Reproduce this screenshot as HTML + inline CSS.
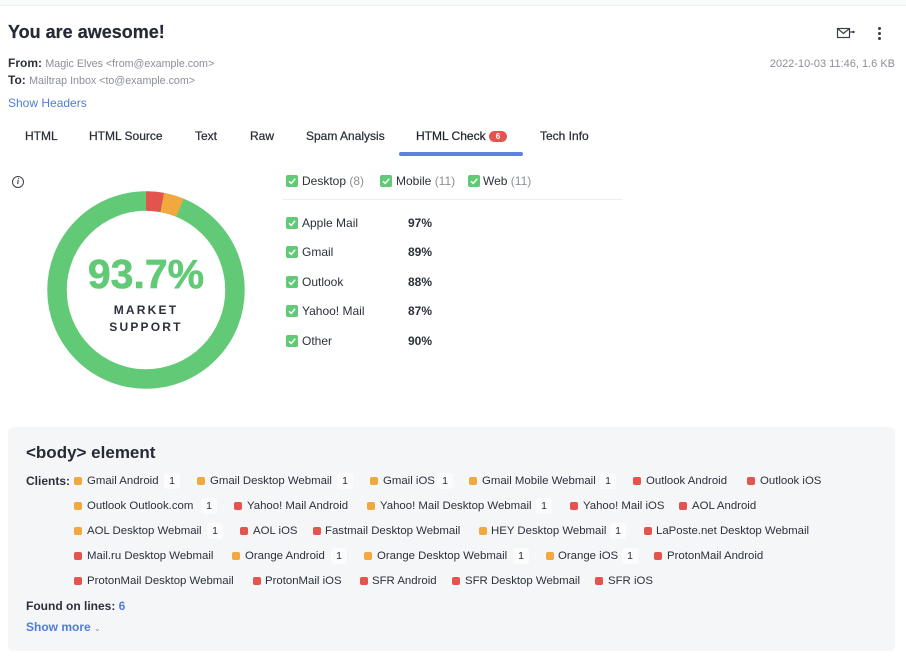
<!DOCTYPE html>
<html><head><meta charset="utf-8">
<style>
*{margin:0;padding:0;box-sizing:border-box}
body{width:906px;height:660px;background:#fff;position:relative;overflow:hidden;font-family:"Liberation Sans",Arial,sans-serif;color:#2b303b}
.t{position:absolute;white-space:nowrap;line-height:16px;font-size:12px}
.c{font-size:11.4px}
.g{color:#8b8f97}
.b{font-weight:bold}
.tab{position:absolute;white-space:nowrap;line-height:16px;font-size:12px;top:128px;color:#2b303b;-webkit-text-stroke:0.25px #2b303b}
.cb{position:absolute;width:12px;height:12px;background:#62c977;border-radius:2px}
.cb svg{position:absolute;left:0;top:0}
.d{position:absolute;width:8px;height:8px;border-radius:2px}
.o{background:#f0a83f}
.r{background:#e4544f}
.bd{position:absolute;width:16px;height:16px;line-height:16px;text-align:center;font-size:10.5px;background:#fcfcfc;border-radius:3px;color:#2b303b}
</style></head><body>
<div style="position:absolute;left:0;top:0;width:906px;height:5px;background:#fafbfb"></div>
<div style="position:absolute;left:0;top:5px;width:906px;height:1px;background:#eceef0"></div>

<div class="t b" style="left:8px;top:22px;font-size:18px;line-height:20px;color:#252a35;-webkit-text-stroke:0.2px #252a35">You are awesome!</div>

<!-- icons -->
<svg style="position:absolute;left:836px;top:26px" width="20" height="14" viewBox="0 0 20 14">
<rect x="1.5" y="2.5" width="12" height="9" fill="none" stroke="#3a3f4a" stroke-width="1.2"/>
<path d="M1.5 2.5 L7.5 7.5 L13.5 2.5" fill="none" stroke="#3a3f4a" stroke-width="1.2"/>
<path d="M13 6 L18 6" stroke="#3a3f4a" stroke-width="1.2"/>
<circle cx="17.5" cy="6" r="1.2" fill="#3a3f4a"/>
</svg>
<div style="position:absolute;left:878px;top:27px;width:3px;height:3px;border-radius:50%;background:#3a3f4a"></div>
<div style="position:absolute;left:878px;top:32px;width:3px;height:3px;border-radius:50%;background:#3a3f4a"></div>
<div style="position:absolute;left:878px;top:37px;width:3px;height:3px;border-radius:50%;background:#3a3f4a"></div>

<div class="t" style="left:8px;top:55px"><span class="b" style="color:#2b303b">From:</span> <span class="g" style="font-size:10.7px">Magic Elves &lt;from@example.com&gt;</span></div>
<div class="t" style="left:8px;top:72px"><span class="b" style="color:#2b303b">To:</span> <span class="g" style="font-size:10.7px">Mailtrap Inbox &lt;to@example.com&gt;</span></div>
<div class="t g" style="right:11px;top:56px;font-size:11px">2022-10-03 11:46, 1.6 KB</div>
<div class="t" style="left:8px;top:95px;color:#4f7ddb">Show Headers</div>

<!-- tabs -->
<div class="tab" style="left:25px">HTML</div>
<div class="tab" style="left:89px">HTML Source</div>
<div class="tab" style="left:195px">Text</div>
<div class="tab" style="left:250px">Raw</div>
<div class="tab" style="left:306px">Spam Analysis</div>
<div class="tab" style="left:416px;color:#1f2430">HTML Check</div>
<div style="position:absolute;left:489px;top:131px;width:18px;height:11px;border-radius:6px;background:#e4544f;color:#fff;font-size:8px;font-weight:bold;text-align:center;line-height:11px">6</div>
<div class="tab" style="left:540px">Tech Info</div>
<div style="position:absolute;left:399px;top:152px;width:124px;height:4px;border-radius:2px;background:#5b83dc"></div>

<!-- info icon -->
<div style="position:absolute;left:12px;top:176px;width:12px;height:12px;border:1px solid #3a3f4a;border-radius:50%;font-size:8px;line-height:10px;text-align:center;font-style:italic;font-family:'Liberation Serif',serif;font-weight:bold;color:#3a3f4a">i</div>

<!-- donut -->
<svg style="position:absolute;left:0;top:0" width="300" height="420" viewBox="0 0 300 420">
<circle cx="146" cy="290" r="89" fill="none" stroke="#62c977" stroke-width="19.5"/>
<circle cx="146" cy="290" r="89" fill="none" stroke="#e4544f" stroke-width="19.5" stroke-dasharray="16.3 600" transform="rotate(-90 146 290)"/>
<circle cx="146" cy="290" r="89" fill="none" stroke="#f0a83f" stroke-width="19.5" stroke-dasharray="0 16.3 18.6 600" transform="rotate(-90 146 290)"/>
</svg>
<div class="t b" style="left:46px;width:200px;text-align:center;top:252px;font-size:41px;line-height:44px;color:#62c977;-webkit-text-stroke:0.6px #62c977">93.7%</div>
<div class="t b" style="left:46px;width:200px;text-align:center;top:302px;font-size:12px;letter-spacing:2.2px;color:#2b303b">MARKET</div>
<div class="t b" style="left:46px;width:200px;text-align:center;top:319px;font-size:12px;letter-spacing:2.2px;color:#2b303b">SUPPORT</div>

<!-- filters -->
<div class="cb" style="left:286px;top:175px"><svg width="12" height="12"><path d="M3 6.2 L5.2 8.4 L9.2 3.8" fill="none" stroke="#fff" stroke-width="1.5"/></svg></div>
<div class="t" style="left:302px;top:173px">Desktop <span class="g">(8)</span></div>
<div class="cb" style="left:380px;top:175px"><svg width="12" height="12"><path d="M3 6.2 L5.2 8.4 L9.2 3.8" fill="none" stroke="#fff" stroke-width="1.5"/></svg></div>
<div class="t" style="left:396px;top:173px">Mobile <span class="g">(11)</span></div>
<div class="cb" style="left:468px;top:175px"><svg width="12" height="12"><path d="M3 6.2 L5.2 8.4 L9.2 3.8" fill="none" stroke="#fff" stroke-width="1.5"/></svg></div>
<div class="t" style="left:483px;top:173px">Web <span class="g">(11)</span></div>
<div style="position:absolute;left:282px;top:199px;width:340px;height:1px;background:#eceef0"></div>

<div class="cb" style="left:286px;top:217px"><svg width="12" height="12"><path d="M3 6.2 L5.2 8.4 L9.2 3.8" fill="none" stroke="#fff" stroke-width="1.5"/></svg></div>
<div class="t" style="left:302px;top:215px">Apple Mail</div><div class="t b" style="left:408px;top:215px">97%</div>
<div class="cb" style="left:286px;top:246px"><svg width="12" height="12"><path d="M3 6.2 L5.2 8.4 L9.2 3.8" fill="none" stroke="#fff" stroke-width="1.5"/></svg></div>
<div class="t" style="left:302px;top:244px">Gmail</div><div class="t b" style="left:408px;top:244px">89%</div>
<div class="cb" style="left:286px;top:276px"><svg width="12" height="12"><path d="M3 6.2 L5.2 8.4 L9.2 3.8" fill="none" stroke="#fff" stroke-width="1.5"/></svg></div>
<div class="t" style="left:302px;top:274px">Outlook</div><div class="t b" style="left:408px;top:274px">88%</div>
<div class="cb" style="left:286px;top:305px"><svg width="12" height="12"><path d="M3 6.2 L5.2 8.4 L9.2 3.8" fill="none" stroke="#fff" stroke-width="1.5"/></svg></div>
<div class="t" style="left:302px;top:303px">Yahoo! Mail</div><div class="t b" style="left:408px;top:303px">87%</div>
<div class="cb" style="left:286px;top:335px"><svg width="12" height="12"><path d="M3 6.2 L5.2 8.4 L9.2 3.8" fill="none" stroke="#fff" stroke-width="1.5"/></svg></div>
<div class="t" style="left:302px;top:333px">Other</div><div class="t b" style="left:408px;top:333px">90%</div>

<!-- body element box -->
<div style="position:absolute;left:8px;top:427px;width:887px;height:224px;background:#f5f6f7;border-radius:6px"></div>
<div class="t b" style="left:26px;top:443px;font-size:17px;line-height:20px;color:#252a35">&lt;body&gt; element</div>
<div class="t b" style="left:26px;top:473px">Clients:</div>

<!-- row1 y=481 -->
<div class="d o" style="left:74px;top:477px"></div><div class="t c" style="left:87px;top:473px">Gmail Android</div><div class="bd" style="left:164px;top:473px">1</div>
<div class="d o" style="left:197px;top:477px"></div><div class="t c" style="left:210px;top:473px">Gmail Desktop Webmail</div><div class="bd" style="left:337px;top:473px">1</div>
<div class="d o" style="left:370px;top:477px"></div><div class="t c" style="left:383px;top:473px">Gmail iOS</div><div class="bd" style="left:437px;top:473px">1</div>
<div class="d o" style="left:469px;top:477px"></div><div class="t c" style="left:482px;top:473px">Gmail Mobile Webmail</div><div class="bd" style="left:600px;top:473px">1</div>
<div class="d r" style="left:633px;top:477px"></div><div class="t c" style="left:646px;top:473px">Outlook Android</div>
<div class="d r" style="left:747px;top:477px"></div><div class="t c" style="left:760px;top:473px">Outlook iOS</div>

<!-- row2 y=506 -->
<div class="d o" style="left:74px;top:502px"></div><div class="t c" style="left:87px;top:498px">Outlook Outlook.com</div><div class="bd" style="left:201px;top:498px">1</div>
<div class="d r" style="left:234px;top:502px"></div><div class="t c" style="left:247px;top:498px">Yahoo! Mail Android</div>
<div class="d o" style="left:367px;top:502px"></div><div class="t c" style="left:380px;top:498px">Yahoo! Mail Desktop Webmail</div><div class="bd" style="left:536px;top:498px">1</div>
<div class="d r" style="left:570px;top:502px"></div><div class="t c" style="left:583px;top:498px">Yahoo! Mail iOS</div>
<div class="d r" style="left:679px;top:502px"></div><div class="t c" style="left:692px;top:498px">AOL Android</div>

<!-- row3 y=531 -->
<div class="d o" style="left:74px;top:527px"></div><div class="t c" style="left:87px;top:523px">AOL Desktop Webmail</div><div class="bd" style="left:207px;top:523px">1</div>
<div class="d r" style="left:240px;top:527px"></div><div class="t c" style="left:253px;top:523px">AOL iOS</div>
<div class="d r" style="left:313px;top:527px"></div><div class="t c" style="left:325px;top:523px">Fastmail Desktop Webmail</div>
<div class="d o" style="left:479px;top:527px"></div><div class="t c" style="left:491px;top:523px">HEY Desktop Webmail</div><div class="bd" style="left:610px;top:523px">1</div>
<div class="d r" style="left:644px;top:527px"></div><div class="t c" style="left:656px;top:523px">LaPoste.net Desktop Webmail</div>

<!-- row4 y=556 -->
<div class="d r" style="left:74px;top:552px"></div><div class="t c" style="left:87px;top:548px">Mail.ru Desktop Webmail</div>
<div class="d o" style="left:232px;top:552px"></div><div class="t c" style="left:245px;top:548px">Orange Android</div><div class="bd" style="left:331px;top:548px">1</div>
<div class="d o" style="left:364px;top:552px"></div><div class="t c" style="left:377px;top:548px">Orange Desktop Webmail</div><div class="bd" style="left:513px;top:548px">1</div>
<div class="d o" style="left:546px;top:552px"></div><div class="t c" style="left:558px;top:548px">Orange iOS</div><div class="bd" style="left:622px;top:548px">1</div>
<div class="d r" style="left:654px;top:552px"></div><div class="t c" style="left:667px;top:548px">ProtonMail Android</div>

<!-- row5 y=581 -->
<div class="d r" style="left:74px;top:577px"></div><div class="t c" style="left:87px;top:573px">ProtonMail Desktop Webmail</div>
<div class="d r" style="left:253px;top:577px"></div><div class="t c" style="left:265px;top:573px">ProtonMail iOS</div>
<div class="d r" style="left:360px;top:577px"></div><div class="t c" style="left:372px;top:573px">SFR Android</div>
<div class="d r" style="left:452px;top:577px"></div><div class="t c" style="left:465px;top:573px">SFR Desktop Webmail</div>
<div class="d r" style="left:595px;top:577px"></div><div class="t c" style="left:608px;top:573px">SFR iOS</div>

<div class="t b" style="left:26px;top:598px">Found on lines: <span style="color:#4f7ddb">6</span></div>
<div class="t b" style="left:26px;top:619px;color:#4f7ddb">Show more <span style="font-weight:normal;font-size:8px;color:#8b8f97">&#8964;</span></div>
</body></html>
